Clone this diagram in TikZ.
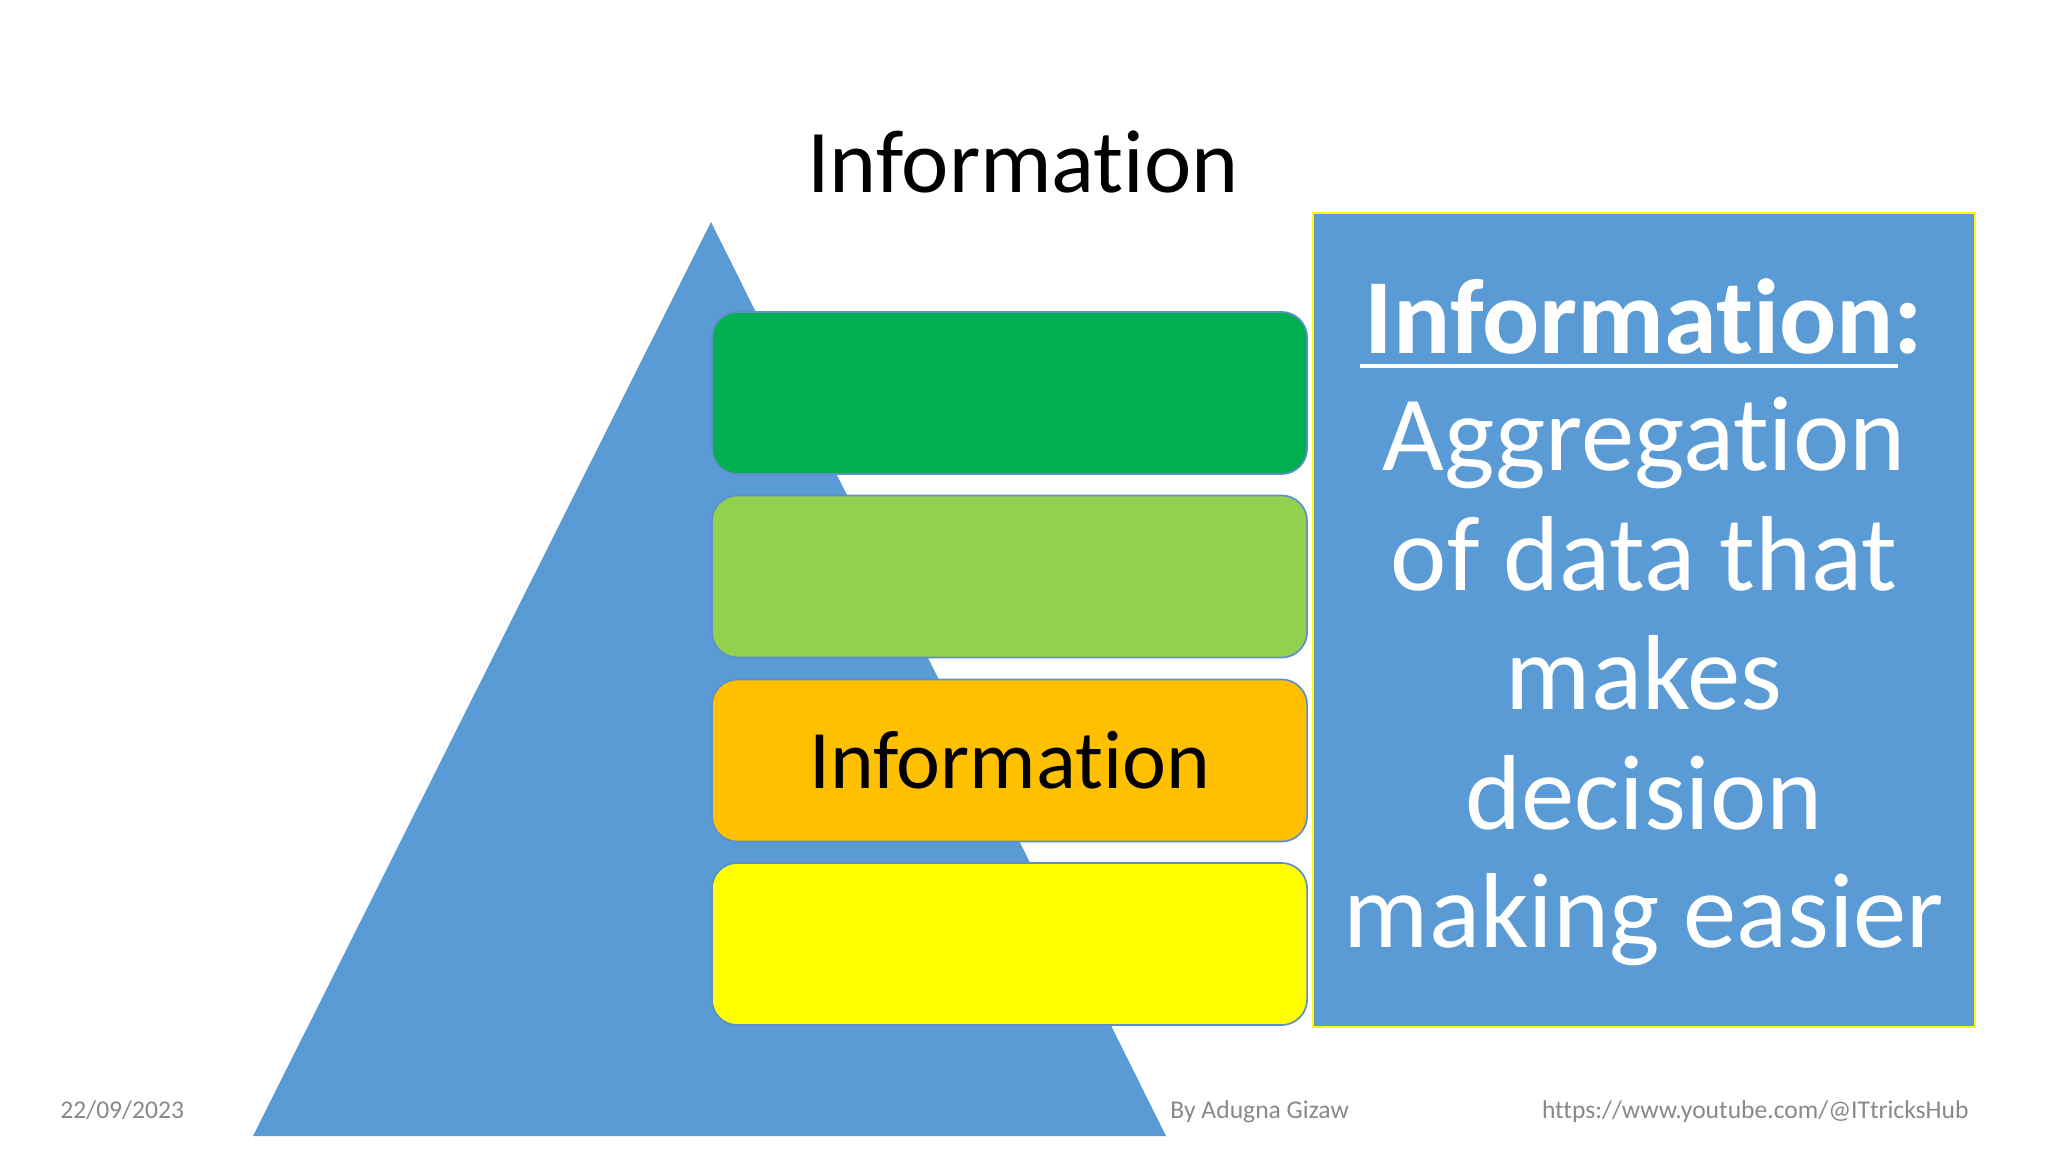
\documentclass[tikz,border=0pt]{standalone}
\usepackage{fontspec}
\setmainfont[Ligatures=NoCommon]{Carlito}
\definecolor{slideblue}{HTML}{5B9BD5}
\definecolor{boxedge}{HTML}{5F8FC8}
\definecolor{darkgreen}{HTML}{00B050}
\definecolor{lightgreen}{HTML}{92D050}
\definecolor{amber}{HTML}{FFC000}
\definecolor{brightyellow}{HTML}{FFFF00}
\definecolor{footgray}{HTML}{898989}
\usetikzlibrary{positioning}

\begin{document}
\begin{tikzpicture}[x=0.46875pt, y=-0.46875pt, %Pixelraster der Folie
				layer/.style={draw=boxedge, line width=0.8pt, rounded corners=12pt, minimum width=279pt, minimum height=76pt, inner sep=0pt},
				defline/.style={text=white, inner sep=0pt, anchor=base, font=\fontsize{50}{60}\selectfont},
				foot/.style={text=footgray, inner sep=0pt, font=\fontsize{12}{14}\selectfont}]
				\useasboundingbox[fill=white] (0,0) rectangle (2048,1152);
				%Pyramide
				\fill[slideblue] (711,222) -- (1166,1136) -- (253,1136) -- cycle;
				%Stufen
				\node[layer, fill=darkgreen] (wisdom) at (1009.5,393) {};
				\node[layer, fill=lightgreen] (knowledge) at (1009.5,576.5) {};
				\node[layer, fill=amber, font=\fontsize{39}{47}\selectfont] (info) at (1009.5,760.5) {Information};
				\node[layer, fill=brightyellow] (data) at (1009.5,944) {};
				%Titel
				\node[inner sep=0pt, anchor=base, font=\fontsize{42}{50}\selectfont] (title) at (1023,193) {Information};
				%Definition
				\draw[line width=1pt, draw=brightyellow, fill=slideblue] (1313,213) rectangle (1975,1027);
				\node[defline, font=\bfseries\fontsize{50}{60}\selectfont] (defhead) at (1644,353) {Information:};
				\draw[white, line width=2pt] (1360,366) -- (1898,366);
				\node[defline] (defa) at (1644,470) {Aggregation};
				\node[defline] (defb) at (1644,590) {of data that};
				\node[defline] (defc) at (1644,709) {makes};
				\node[defline] (defd) at (1644,829) {decision};
				\node[defline] (defe) at (1644,947) {making easier};
				%Fusszeile
				\node[foot, anchor=base west] (date) at (60,1118) {22/09/2023};
				\node[foot, anchor=base west] (author) at (1170,1118) {By Adugna Gizaw};
				\node[foot, anchor=base east] (url) at (1969,1118) {https://www.youtube.com/@ITtricksHub};
			\end{tikzpicture}
\end{document}
